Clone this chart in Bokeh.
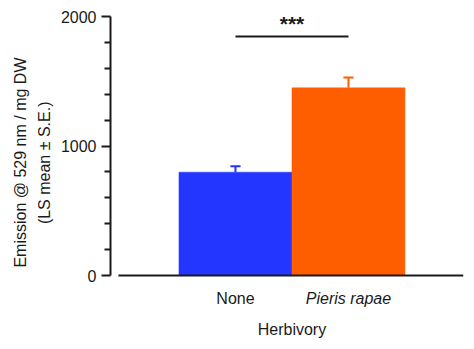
from bokeh.plotting import figure
from bokeh.models import FixedTicker, Label, Range1d, ColumnDataSource, Title
from bokeh.embed import file_html
from bokeh.resources import INLINE

categories = ["None", "Pieris rapae"]
means = [798, 1449]
se = [46, 80]
colors = ["#2236FF", "#FF5E00"]
x_pos = [1, 2]
sig_y = 1846
sig_label = "***"
y_ticks = [0, 1000, 2000]
y_minor = [200, 400, 600, 800, 1200, 1400, 1600, 1800]
x_title = "Herbivory"
y_title_lines = ["Emission @ 529 nm / mg DW", "(LS mean ± S.E.)"]

FONT = "Liberation Sans"
INK = "#1a1a1a"
FS = "16px"

p = figure(width=474, height=349, output_backend="svg", toolbar_location=None,
           x_range=Range1d(-0.106, 3.018), y_range=Range1d(-571, 2000),
           min_border_left=110, min_border_right=11, min_border_top=16, min_border_bottom=0)
p.outline_line_color = None
p.grid.visible = False
p.background_fill_color = "white"
p.border_fill_color = "white"
p.xaxis.visible = False

src = ColumnDataSource(dict(x=x_pos, top=means, color=colors,
                            up=[m + s for m, s in zip(means, se)],
                            cl=[x - 0.045 for x in x_pos], cr=[x + 0.045 for x in x_pos]))

# error bars (upper only)
p.segment(x0="x", y0="top", x1="x", y1="up", source=src, line_color="color", line_width=2)
p.segment(x0="cl", y0="up", x1="cr", y1="up", source=src, line_color="color", line_width=2)
p.vbar(x="x", top="top", width=1.0, bottom=0, source=src, fill_color="color", line_color="color", line_width=0.5)

# baseline
xs = p.x_range.start
p.segment(x0=[xs + 0.07], y0=[0], x1=[p.x_range.end], y1=[0], line_color=INK, line_width=2)

# significance
p.segment(x0=[x_pos[0]], y0=[sig_y], x1=[x_pos[1]], y1=[sig_y], line_color=INK, line_width=2)
p.add_layout(Label(x=sum(x_pos) / 2, y=sig_y, text=sig_label, text_align="center", text_baseline="bottom",
                   y_offset=1, text_font=FONT, text_font_size="21px", text_font_style="bold", text_color=INK))

# y axis
ya = p.yaxis[0]
ya.bounds = (y_ticks[0], y_ticks[-1])
ya.ticker = FixedTicker(ticks=y_ticks, minor_ticks=y_minor)
ya.axis_line_width = 2
ya.axis_line_color = INK
ya.major_tick_line_width = 2
ya.minor_tick_line_width = 2
ya.major_tick_line_color = INK
ya.minor_tick_line_color = INK
ya.major_tick_out = 9
ya.major_tick_in = 0
ya.minor_tick_out = 6
ya.minor_tick_in = 0
ya.major_label_text_font = FONT
ya.major_label_text_font_size = FS
ya.major_label_text_color = INK
ya.major_label_standoff = 5

# y title as two stacked left-side titles (inner line first), placed toward the top
for line, off, so in zip(reversed(y_title_lines), [85, 41], [10, 0]):
    p.add_layout(Title(text=line, align="right", offset=off, standoff=so,
                       text_font=FONT, text_font_size=FS, text_font_style="normal",
                       text_color=INK), "left")

# x category labels and title
styles = ["normal", "italic"]
for xv, name, st in zip(x_pos, categories, styles):
    p.add_layout(Label(x=xv, y=0, text=name, text_align="center", text_baseline="top",
                       y_offset=-14, text_font=FONT, text_font_size=FS,
                       text_font_style=st, text_color=INK))
p.add_layout(Label(x=sum(x_pos) / 2, y=0, text=x_title, text_align="center", text_baseline="top",
                   y_offset=-45, text_font=FONT, text_font_size=FS, text_color=INK))

open("out.html", "w").write(file_html(p, INLINE))
